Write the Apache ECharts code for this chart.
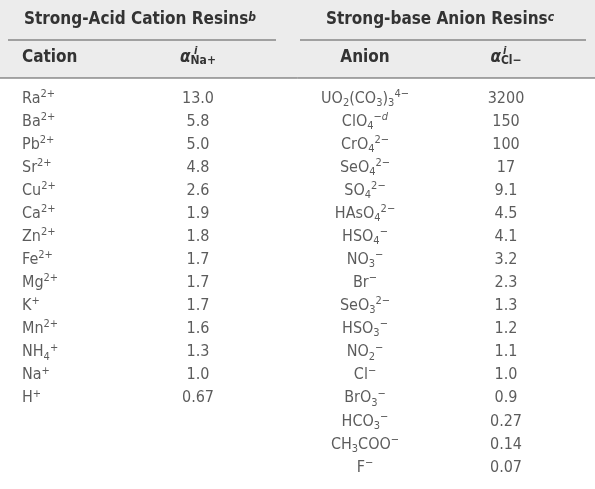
<!DOCTYPE html>
<html><head><meta charset="utf-8">
<script src="https://cdn.jsdelivr.net/npm/echarts@6/dist/echarts.min.js"></script>
<style>html,body{margin:0;padding:0;background:#fff}#c{width:595px;height:489px}</style>
</head><body><div id="c"></div>
<script>
const cations = ["Ra{sp|2+}","Ba{sp|2+}","Pb{sp|2+}","Sr{sp|2+}","Cu{sp|2+}","Ca{sp|2+}","Zn{sp|2+}","Fe{sp|2+}","Mg{sp|2+}","K{sp|+}","Mn{sp|2+}","NH{sb|4}{sp|+}","Na{sp|+}","H{sp|+}"];
const cationValues = ["13.0","5.8","5.0","4.8","2.6","1.9","1.8","1.7","1.7","1.7","1.6","1.3","1.0","0.67"];
const anions = ["UO{sb|2}(CO{sb|3}){sb|3}{sp|4−}","ClO{sb|4}{sp|−}{spi|d}","CrO{sb|4}{sp|2−}","SeO{sb|4}{sp|2−}","SO{sb|4}{sp|2−}","HAsO{sb|4}{sp|2−}","HSO{sb|4}{sp|−}","NO{sb|3}{sp|−}","Br{sp|−}","SeO{sb|3}{sp|2−}","HSO{sb|3}{sp|−}","NO{sb|2}{sp|−}","Cl{sp|−}","BrO{sb|3}{sp|−}","HCO{sb|3}{sp|−}","CH{sb|3}COO{sp|−}","F{sp|−}"];
const anionValues = ["3200","150","100","17","9.1","4.5","4.1","3.2","2.3","1.3","1.2","1.1","1.0","0.9","0.27","0.14","0.07"];
const rows = Array.from({length:17},(_,i)=>String(i));

const font = "'DejaVu Sans Condensed','Liberation Sans Narrow','Liberation Sans',sans-serif";
const rich = {
  n:{fontSize:16,color:'#333',fontFamily:font,lineHeight:20,verticalAlign:'middle'},
  sp:{fontSize:11,color:'#333',fontFamily:font,lineHeight:20,verticalAlign:'top'},
  spi:{fontSize:11,color:'#333',fontFamily:font,fontStyle:'italic',lineHeight:20,verticalAlign:'top'},
  sb:{fontSize:11,color:'#333',fontFamily:font,lineHeight:20,verticalAlign:'bottom'}
};
function wrap(s){ return s.split(/(\{[a-z]+\|[^}]*\})/).filter(x=>x).map(x=>x[0]==='{'?x:'{n|'+x+'}').join(''); }
function col(x, arr, align){
  return {type:'scatter',symbolSize:0,silent:true,data:arr.map((t,i)=>[x,i]),
    label:{show:true,position:'inside',align:align,formatter:p=>wrap(arr[p.dataIndex]),rich:rich,fontFamily:font}};
}
const chart = echarts.init(document.getElementById('c'));
const hdr = {fontFamily:font,fontWeight:'bold',fontSize:17,fill:'#333'};
const tRich = {t:{fontFamily:font,fontWeight:'bold',fontSize:17,fill:'#333'},s:{fontFamily:font,fontWeight:'bold',fontStyle:'italic',fontSize:12,fill:'#333',verticalAlign:'top'}};
chart.setOption({
  animation:false,
  grid:{left:0,right:0,top:87,bottom:10},
  xAxis:{type:'value',min:0,max:595,show:false},
  yAxis:{type:'category',data:rows,inverse:true,show:false},
  series:[col(22,cations,'left'),col(198,cationValues,'center'),col(365,anions,'center'),col(506,anionValues,'center')],
  graphic:[
    {type:'rect',shape:{x:0,y:0,width:595,height:78},style:{fill:'#ececec'},z:-1},
    {type:'line',shape:{x1:8,y1:40,x2:276,y2:40},style:{stroke:'#555',lineWidth:1}},
    {type:'line',shape:{x1:300,y1:40,x2:586,y2:40},style:{stroke:'#555',lineWidth:1}},
    {type:'line',shape:{x1:0,y1:78,x2:595,y2:78},style:{stroke:'#555',lineWidth:1}},
    {type:'text',x:140,y:20,style:{text:'{t|Strong-Acid Cation Resins}{s|b}',align:'center',verticalAlign:'middle',rich:tRich}},
    {type:'text',x:440,y:20,style:{text:'{t|Strong-base Anion Resins}{s|c}',align:'center',verticalAlign:'middle',rich:tRich}},
    {type:'text',x:22,y:58,style:Object.assign({text:'Cation',verticalAlign:'middle'},hdr)},
    {type:'text',x:365,y:58,style:Object.assign({text:'Anion',align:'center',verticalAlign:'middle'},hdr)},
    {type:'text',x:198,y:58,style:{text:'{a|α}{s|Na+}',align:'center',verticalAlign:'middle',rich:{a:{fontFamily:font,fontWeight:'bold',fontStyle:'italic',fontSize:17,fill:'#333'},s:{fontFamily:font,fontWeight:'bold',fontSize:12,fill:'#333',verticalAlign:'bottom'}}}},
    {type:'text',x:194,y:46,style:{text:'i',fontFamily:font,fontWeight:'bold',fontStyle:'italic',fontSize:11,fill:'#333'}},
    {type:'text',x:506,y:58,style:{text:'{a|α}{s|Cl−}',align:'center',verticalAlign:'middle',rich:{a:{fontFamily:font,fontWeight:'bold',fontStyle:'italic',fontSize:17,fill:'#333'},s:{fontFamily:font,fontWeight:'bold',fontSize:12,fill:'#333',verticalAlign:'bottom'}}}},
    {type:'text',x:503,y:46,style:{text:'i',fontFamily:font,fontWeight:'bold',fontStyle:'italic',fontSize:11,fill:'#333'}}
  ]
});
</script></body></html>
